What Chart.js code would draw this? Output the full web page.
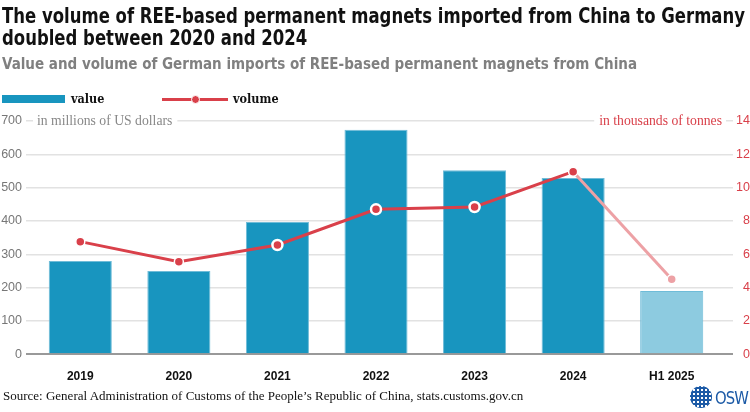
<!DOCTYPE html>
<html>
<head>
<meta charset="utf-8">
<script src="https://cdn.jsdelivr.net/npm/chart.js@4"></script>
<style>
  body { margin: 0; background: #fff; }
  #wrap { position: relative; width: 750px; height: 412px; overflow: hidden; }
  #chart { position: absolute; left: 0; top: 0; }
  .title { position: absolute; left: 2px; top: 5px; font: bold 21px "DejaVu Sans Condensed", sans-serif; line-height: 22px; color: #111; white-space: nowrap; transform-origin: 0 0; }
  .subtitle { position: absolute; left: 2px; top: 54px; font: bold 16px "DejaVu Sans Condensed", sans-serif; color: #808080; white-space: nowrap; transform-origin: 0 0; }
  .legend { position: absolute; top: 91px; font: bold 12.5px "DejaVu Serif Condensed", "DejaVu Serif", serif; color: #111; }
  .source { position: absolute; left: 3px; top: 388px; font: 13px "Liberation Serif", serif; color: #111; white-space: nowrap; }
  .osw { position: absolute; left: 715px; top: 387px; font: 18px "DejaVu Sans Condensed", sans-serif; color: #1c5aa6; letter-spacing: -1px; transform-origin: 0 0; }
  .globe { position: absolute; left: 690px; top: 386px; width: 22px; height: 22px; border-radius: 50%;
    background: radial-gradient(circle, #1c5aa6 0 1.6px, transparent 1.8px) 0 0 / 4px 4px; }
</style>
</head>
<body>
<div id="wrap">
  <canvas id="chart" width="750" height="412"></canvas>
  <div class="title" id="title"><span>The volume of REE-based permanent magnets imported from China to Germany</span><br><span>doubled between 2020 and 2024</span></div>
  <div class="subtitle" id="subtitle">Value and volume of German imports of REE-based permanent magnets from China</div>
  <div class="legend" style="left:2px;top:95px;width:63px;height:8px;background:#1895bf"></div>
  <div class="legend" style="left:71px">value</div>
  <div class="legend" style="left:162px;top:98px;width:66px;height:3px;background:#d9404a"></div>
  <div class="legend" style="left:191px;top:95px;width:7px;height:7px;border-radius:50%;background:#d9404a;border:1px solid #fff"></div>
  <div class="legend" style="left:233px">volume</div>
  <div class="source">Source: General Administration of Customs of the People’s Republic of China, stats.customs.gov.cn</div>
  <div class="globe"></div>
  <div class="osw" id="osw">OSW</div>
</div>
<script>
const categories = ["2019", "2020", "2021", "2022", "2023", "2024", "H1 2025"]
const valueMillionsUSD = [280, 250, 397, 674, 552, 529, 190]
const volumeThousandTonnes = [6.76, 5.56, 6.56, 8.7, 8.84, 10.96, 4.5]
const valueTicks = [0, 100, 200, 300, 400, 500, 600, 700]
const volumeTicks = [0, 2, 4, 6, 8, 10, 12, 14]

const blue = "#1895bf"
const paleBlue = "#8dcbe0"
const red = "#d9404a"
const paleRed = "#eda1a5"
const gridColor = "#e2e2e2"
const baseColor = "#999"

// squeeze heading text to the widths of the original
function fitWidth(el, target) {
  const w = el.getBoundingClientRect().width
  el.style.transform = "scaleX(" + target / w + ")"
}
fitWidth(document.querySelector("#title span"), 743)
document.getElementById("title").style.transform = document.querySelector("#title span").style.transform
document.querySelector("#title span").style.transform = ""
fitWidth(document.getElementById("subtitle"), 635)
fitWidth(document.getElementById("osw"), 33)

const unitLabels = {
  id: "unitLabels",
  afterDraw(chart) {
    const ctx = chart.ctx
    const { left, right } = chart.chartArea
    const yTop = chart.scales.y.getPixelForValue(700)
    ctx.save()
    ctx.font = "13.7px 'Liberation Serif', serif"
    ctx.textBaseline = "middle"
    // unit labels sit on the top gridline
    let txt = "in millions of US dollars"
    let w = ctx.measureText(txt).width
    ctx.fillStyle = "#fff"
    ctx.fillRect(left + 2, yTop - 6, w + 9, 12)
    ctx.fillStyle = "#888"
    ctx.textAlign = "left"
    ctx.fillText(txt, left + 6, yTop)
    txt = "in thousands of tonnes"
    w = ctx.measureText(txt).width
    ctx.fillStyle = "#fff"
    ctx.fillRect(right + 5 - w - 9, yTop - 6, w + 9, 12)
    ctx.fillStyle = red
    ctx.textAlign = "right"
    ctx.fillText(txt, right + 1, yTop)
    ctx.restore()
  },
}

new Chart(document.getElementById("chart"), {
  data: {
    labels: categories,
    datasets: [
      {
        type: "line",
        label: "volume",
        data: volumeThousandTonnes,
        yAxisID: "y1",
        borderColor: red,
        borderWidth: 3,
        tension: 0,
        pointRadius: [4.5, 4.5, 5, 5, 5, 4.5, 4.5],
        pointBorderWidth: [1.5, 1.5, 2.5, 2.5, 2.5, 1.5, 1.5],
        pointBackgroundColor: [red, red, red, red, red, red, paleRed],
        pointBorderColor: "#fff",
        segment: {
          borderColor: c => (c.p1DataIndex === 6 ? paleRed : red),
        },
        order: 0,
      },
      {
        type: "bar",
        label: "value",
        data: valueMillionsUSD,
        yAxisID: "y",
        backgroundColor: [blue, blue, blue, blue, blue, blue, paleBlue],
        borderColor: "#6fbcd8",
        borderWidth: { top: 1, left: 1, right: 1, bottom: 0 },
        borderSkipped: "bottom",
        barPercentage: 0.64,
        categoryPercentage: 1,
        order: 1,
      },
    ],
  },
  options: {
    responsive: false,
    animation: false,
    layout: { padding: { top: 121, bottom: 0, left: 0, right: 0 } },
    plugins: { legend: { display: false }, tooltip: { enabled: false } },
    scales: {
      x: {
        offset: true,
        grid: { display: false },
        border: { display: false },
        ticks: { color: "#111", font: { family: "'Liberation Sans', sans-serif", size: 12, weight: "bold" }, padding: 7 },
        afterFit: s => { s.height = 57.7 },
      },
      y: {
        position: "left",
        min: 0,
        max: 700,
        afterBuildTicks: s => { s.ticks = valueTicks.map(v => ({ value: v })) },
        grid: {
          color: c => (c.tick && c.tick.value === 0 ? baseColor : gridColor),
          lineWidth: c => (c.tick && c.tick.value === 0 ? 2 : 1.5),
          tickLength: 5,
        },
        border: { display: false },
        ticks: { color: "#777", font: { family: "'Liberation Sans', sans-serif", size: 12.5 }, padding: 4 },
        afterFit: s => { s.width = 31 },
      },
      y1: {
        position: "right",
        min: 0,
        max: 14,
        afterBuildTicks: s => { s.ticks = volumeTicks.map(v => ({ value: v })) },
        grid: {
          drawOnChartArea: false,
          color: c => (c.tick && c.tick.value === 0 ? baseColor : gridColor),
          lineWidth: c => (c.tick && c.tick.value === 0 ? 2 : 1.5),
          tickLength: 12,
        },
        border: { display: false },
        ticks: { color: red, font: { family: "'Liberation Sans', sans-serif", size: 12.5 }, padding: 1, crossAlign: "far" },
        afterFit: s => { s.width = 29 },
      },
    },
  },
  plugins: [unitLabels],
})
</script>
</body>
</html>
